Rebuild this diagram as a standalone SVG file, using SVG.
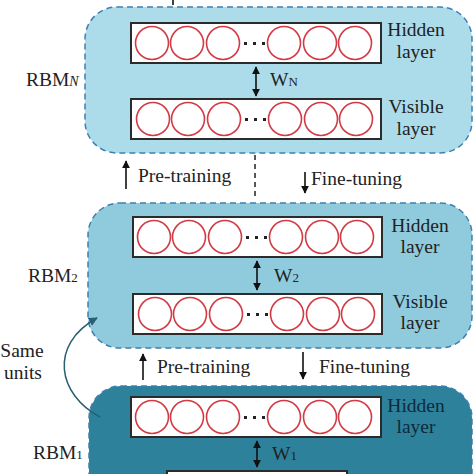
<svg xmlns="http://www.w3.org/2000/svg" width="474" height="474" viewBox="0 0 474 474">
<defs>
<style>
.box{stroke:#3f7fb0;stroke-width:1.5;stroke-dasharray:6 4}
.layer{fill:#fff;stroke:#2b2b2b;stroke-width:2}
.u{fill:none;stroke:#d23a44;stroke-width:1.6}
.t{font-family:"Liberation Serif",serif;font-size:19.5px;fill:#222}
.d{fill:#222}
.ln{stroke:#111;stroke-width:1.6;fill:none}
</style>
<marker id="ah" viewBox="0 0 10 10" refX="9" refY="5" markerWidth="5" markerHeight="5" orient="auto-start-reverse"><path d="M0,0L10,5L0,10z" fill="#111"/></marker>
<marker id="ah2" viewBox="0 0 10 10" refX="9" refY="5" markerWidth="6" markerHeight="6" orient="auto"><path d="M0,0L10,5L0,10z" fill="#2a5f70"/></marker>
<g id="units">
<circle class="u" cx="21" cy="20" r="16.5"/><circle class="u" cx="56" cy="20" r="16.5"/><circle class="u" cx="92" cy="20" r="16.5"/>
<rect class="d" x="113" y="19" width="3" height="3"/><rect class="d" x="122" y="19" width="3" height="3"/><rect class="d" x="131" y="19" width="3" height="3"/>
<circle class="u" cx="153" cy="20" r="16.5"/><circle class="u" cx="189" cy="20" r="16.5"/><circle class="u" cx="224" cy="20" r="16.5"/>
</g>
</defs>
<rect width="474" height="474" fill="#fff"/>

<g id="rbmN">
<rect class="box" x="85" y="7" width="387" height="146" rx="32" fill="#acdcea"/>
<rect class="layer" x="131" y="23" width="250" height="40"/>
<use href="#units" x="131" y="23"/>
<rect class="layer" x="131" y="99" width="250" height="40"/>
<use href="#units" x="132" y="99"/>
<text class="t" x="416" y="36" text-anchor="middle">Hidden</text>
<text class="t" x="416" y="58" text-anchor="middle">layer</text>
<text class="t" x="416" y="113" text-anchor="middle">Visible</text>
<text class="t" x="416" y="135" text-anchor="middle">layer</text>
<text class="t" x="26" y="86">RBM<tspan font-size="14" font-style="italic">N</tspan></text>
<text class="t" x="270" y="86">W<tspan font-size="13">N</tspan></text>
</g>

<g id="rbm2">
<rect class="box" x="88" y="203" width="384" height="145" rx="32" fill="#8fcbdc"/>
<rect class="layer" x="133" y="217" width="249" height="40"/>
<use href="#units" x="133" y="217"/>
<rect class="layer" x="133" y="294" width="249" height="40"/>
<use href="#units" x="134" y="294"/>
<text class="t" x="420" y="232" text-anchor="middle">Hidden</text>
<text class="t" x="420" y="253" text-anchor="middle">layer</text>
<text class="t" x="420" y="308" text-anchor="middle">Visible</text>
<text class="t" x="420" y="329" text-anchor="middle">layer</text>
<text class="t" x="28" y="282">RBM<tspan font-size="13">2</tspan></text>
<text class="t" x="274" y="282">W<tspan font-size="13">2</tspan></text>
</g>

<g id="rbm1">
<rect class="box" x="89" y="386" width="383" height="120" rx="32" fill="#2e819b"/>
<rect class="layer" x="131" y="397" width="250" height="40"/>
<use href="#units" x="131" y="397"/>
<rect class="layer" x="167" y="471" width="180" height="20"/>
<text class="t" x="416" y="412" text-anchor="middle" style="fill:#0f2a3a">Hidden</text>
<text class="t" x="416" y="433" text-anchor="middle" style="fill:#0f2a3a">layer</text>
<text class="t" x="357" y="487" style="fill:#0f2a3a">Visible</text>
<text class="t" x="33" y="459">RBM<tspan font-size="13">1</tspan></text>
<text class="t" x="272" y="460">W<tspan font-size="13">1</tspan></text>
</g>

<g id="same-units">
<text class="t" x="22" y="357" text-anchor="middle">Same</text>
<text class="t" x="23" y="379" text-anchor="middle">units</text>
</g>

<g id="connectors">
<line class="ln" x1="173" y1="0" x2="173" y2="5"/>
<line class="ln" x1="256" y1="67" x2="256" y2="96" marker-start="url(#ah)" marker-end="url(#ah)"/>
<line class="ln" x1="257" y1="261" x2="257" y2="290" marker-start="url(#ah)" marker-end="url(#ah)"/>
<line class="ln" x1="257" y1="441" x2="257" y2="467" marker-start="url(#ah)" marker-end="url(#ah)"/>
<line x1="255" y1="155" x2="255" y2="197" stroke="#222" stroke-width="1.5" stroke-dasharray="5 4"/>
<line class="ln" x1="126" y1="189" x2="126" y2="161" marker-end="url(#ah)"/>
<line class="ln" x1="305" y1="172" x2="305" y2="193" marker-end="url(#ah)"/>
<line class="ln" x1="143" y1="380" x2="143" y2="354" marker-end="url(#ah)"/>
<line class="ln" x1="303" y1="352" x2="303" y2="379" marker-end="url(#ah)"/>
<path d="M100,417 C58,395 48,345 97,318" fill="none" stroke="#2a5f70" stroke-width="1.5" marker-end="url(#ah2)"/>
<text class="t" x="138" y="182">Pre-training</text>
<text class="t" x="311" y="185">Fine-tuning</text>
<text class="t" x="157" y="373">Pre-training</text>
<text class="t" x="319" y="373">Fine-tuning</text>
</g>
</svg>
